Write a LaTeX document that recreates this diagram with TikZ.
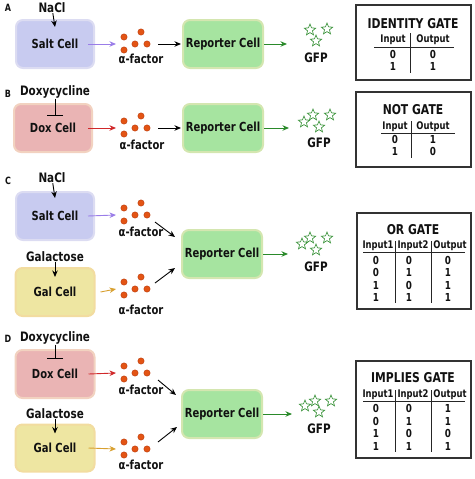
\documentclass[tikz,border=0pt]{standalone}
\usepackage{fontspec}
\setmainfont{DejaVu Sans}[FakeStretch=0.8]
\usetikzlibrary{arrows.meta,shapes.geometric}
\definecolor{saltf}{HTML}{C8CBF0}\definecolor{saltd}{HTML}{DCDCF2}
\definecolor{doxf}{HTML}{EAB4B4}\definecolor{doxd}{HTML}{F2D2C0}
\definecolor{galf}{HTML}{EEE6A2}\definecolor{gald}{HTML}{F2DCA0}
\definecolor{repf}{HTML}{A6E4A0}\definecolor{repd}{HTML}{D4E6B0}
\definecolor{purp}{HTML}{9A7DE8}\definecolor{redA}{HTML}{D0282A}
\definecolor{oran}{HTML}{D8A030}\definecolor{grn}{HTML}{2A8A2A}
\definecolor{dotf}{HTML}{E35414}\definecolor{dotd}{HTML}{B83A0A}
\definecolor{txt}{HTML}{111111}
\tikzset{
  cellbox/.style={rounded corners=7pt,line width=2pt,minimum width=78pt,minimum height=48pt,
    font=\fontsize{12.5}{14}\selectfont\bfseries,text=txt,inner sep=0pt},
  saltc/.style={cellbox,fill=saltf,draw=saltd},
  doxc/.style={cellbox,fill=doxf,draw=doxd},
  galc/.style={cellbox,fill=galf,draw=gald},
  repc/.style={cellbox,fill=repf,draw=repd,minimum width=80pt},
  lbl/.style={font=\fontsize{13}{15}\selectfont\bfseries,text=txt,inner sep=0pt},
  plbl/.style={font=\fontsize{10}{12}\selectfont\bfseries,text=txt,inner sep=0pt},
  afac/.style={font=\fontsize{12.5}{14}\selectfont\bfseries,text=txt,inner sep=0pt},
  ttl/.style={font=\fontsize{13.5}{15}\selectfont\bfseries,text=txt,inner sep=0pt},
  hdr/.style={font=\fontsize{10.5}{12}\selectfont\bfseries,text=txt,inner sep=0pt},
  val/.style={font=\fontsize{11}{12}\selectfont\bfseries,text=txt,inner sep=0pt},
  tbox/.style={draw=black!80,line width=1.1pt},
  tline/.style={draw=black!85,line width=0.8pt},
  arr/.style={line width=0.9pt,-{Stealth[length=6.5pt,width=5.5pt]}},
  inh/.style={line width=0.9pt,-{Bar[width=16pt]}},
  gstar/.style={star,star points=5,star point ratio=2.3,minimum size=12pt,inner sep=0pt,draw=grn,line width=0.6pt,fill=white},
  fdot/.style={fill=dotf,draw=dotd,line width=0.4pt},
}
\newcommand\fdots[1]{\foreach \dx/\dy in {-11/-7,6/-12,0/0,12/0,-11/6}{\filldraw[fdot] ([shift={(\dx,\dy)}]#1) circle (3.2pt);}}
\begin{document}
\begin{tikzpicture}[x=1pt,y=-1pt]
\useasboundingbox (0,0) rectangle (474,479);
% ---------- Panel A
\node[plbl] (labA) at (8,8) {A};
\node[lbl] (naclA) at (52,8) {NaCl};
\node[saltc] (saltA) at (55,44) {Salt Cell};
\node[repc] (repA) at (223,44) {Reporter Cell};
\coordinate (dA) at (135,44);
\node[afac] (afA) at (141,59) {α-factor};
\draw[arr,black] (naclA) -- ([yshift=-8pt]saltA.north);
\draw[arr,purp] ([xshift=-7pt]saltA.east) -- ([xshift=-19pt]dA);
\fdots{dA}
\draw[arr,black] ([xshift=23pt]dA) -- ([xshift=-1pt]repA.west);
\draw[arr,grn] ([xshift=0pt]repA.east) -- ([xshift=23pt]repA.east);
\node[gstar] (sA1) at (310,30) {};
\node[gstar] (sA2) at (327,29) {};
\node[gstar] (sA3) at (316,41) {};
\node[lbl] (gfpA) at (316,58) {GFP};
% table A
\draw[tbox] (356,5) rectangle (471,80);
\node[ttl] (tA) at (413,24) {IDENTITY GATE};
\node[hdr] (hA1) at (393,40) {Input};
\node[hdr] (hA2) at (433,40) {Output};
\draw[tline] (410,33) -- (410,73);
\draw[tline] (374,47) -- (454,47);
\node[val] (vA1) at (393,54) {0};\node[val] (vA2) at (433,54) {0};
\node[val] (vA3) at (393,66) {1};\node[val] (vA4) at (433,66) {1};
% ---------- Panel B
\node[plbl] (labB) at (8,94) {B};
\node[lbl] (doxyB) at (55,92) {Doxycycline};
\node[doxc] (doxB) at (53,128) {Dox Cell};
\node[repc] (repB) at (223,128) {Reporter Cell};
\coordinate (dB) at (135,128);
\node[afac] (afB) at (142,145) {α-factor};
\draw[inh,black] (doxyB) -- ([yshift=-13pt]doxB.north -| doxyB);
\draw[arr,redA] ([xshift=-5pt]doxB.east) -- ([xshift=-19pt]dB);
\fdots{dB}
\draw[arr,black] ([xshift=23pt]dB) -- ([xshift=-1pt]repB.west);
\draw[arr,grn] (repB.east) -- ([xshift=25pt]repB.east);
\node[gstar] (sB1) at (304,122) {};
\node[gstar] (sB2) at (313,115) {};
\node[gstar] (sB3) at (330,115) {};
\node[gstar] (sB4) at (319,127) {};
\node[lbl] (gfpB) at (319,143) {GFP};
% table B
\draw[tbox] (356,92) rectangle (471,167);
\node[ttl] (tB) at (413,110) {NOT GATE};
\node[hdr] (hB1) at (395,127) {Input};
\node[hdr] (hB2) at (433,127) {Output};
\draw[tline] (411,121) -- (411,158);
\draw[tline] (381,133) -- (455,133);
\node[val] (vB1) at (395,139) {0};\node[val] (vB2) at (433,139) {1};
\node[val] (vB3) at (395,151) {1};\node[val] (vB4) at (433,151) {0};
% ---------- Panel C
\node[plbl] (labC) at (8,181) {C};
\node[lbl] (naclC) at (52,178) {NaCl};
\node[saltc] (saltC) at (55,216) {Salt Cell};
\node[lbl] (galaC) at (55,257) {Galactose};
\node[galc,minimum width=79pt] (galC) at (55,292) {Gal Cell};
\node[repc] (repC) at (222,254) {Reporter Cell};
\coordinate (dC1) at (135,215);
\coordinate (dC2) at (135,289);
\node[afac] (afC1) at (141,232) {α-factor};
\node[afac] (afC2) at (141,310) {α-factor};
\draw[arr,black] (naclC) -- ([yshift=-7pt]saltC.north);
\draw[arr,black] (galaC) -- ([yshift=-10pt]galC.north);
\draw[arr,purp] ([xshift=-7pt]saltC.east) -- ([xshift=-19pt]dC1);
\draw[arr,oran] ([xshift=5pt]galC.east) -- ([xshift=-19pt]dC2);
\fdots{dC1}\fdots{dC2}
\draw[arr,black] ([shift={(20,7)}]dC1) -- ([shift={(-6,-17)}]repC.west);
\draw[arr,black] ([shift={(20,-6)}]dC2) -- ([shift={(-6,14)}]repC.west);
\draw[arr,grn] (repC.east) -- ([xshift=25pt]repC.east);
\node[gstar] (sC1) at (302,244) {};
\node[gstar] (sC2) at (310,238) {};
\node[gstar] (sC3) at (327,238) {};
\node[gstar] (sC4) at (316,250) {};
\node[lbl] (gfpC) at (316,267) {GFP};
% table C
\draw[tbox] (357,213) rectangle (471,309);
\node[ttl] (tC) at (413,230) {OR GATE};
\node[hdr] (hC1) at (378,246) {Input1};
\node[hdr] (hC2) at (413,246) {Input2};
\node[hdr] (hC3) at (450,246) {Output};
\draw[tline] (395,241) -- (395,303);
\draw[tline] (431,241) -- (431,303);
\draw[tline] (363,252) -- (465,252);
\foreach \y/\a/\b/\c [count=\i] in {260/0/0/0,272/0/1/1,285/1/0/1,297/1/1/1}{
  \node[val] (vC\i a) at (376,\y) {\a};
  \node[val] (vC\i b) at (409,\y) {\b};
  \node[val] (vC\i c) at (448,\y) {\c};}
% ---------- Panel D
\node[plbl] (labD) at (8,339) {D};
\node[lbl] (doxyD) at (55,338) {Doxycycline};
\node[doxc,minimum width=79pt] (doxD) at (55,374) {Dox Cell};
\node[lbl] (galaD) at (55,414) {Galactose};
\node[galc,minimum width=79pt,minimum height=47pt] (galD) at (55,448) {Gal Cell};
\node[repc] (repD) at (222,414) {Reporter Cell};
\coordinate (dD1) at (135,373);
\coordinate (dD2) at (135,449);
\node[afac] (afD1) at (141,390) {α-factor};
\node[afac] (afD2) at (141,465) {α-factor};
\draw[inh,black] (doxyD) -- ([yshift=-10pt]doxD.north -| doxyD);
\draw[arr,black] (galaD) -- ([yshift=-10pt]galD.north);
\draw[arr,redA] ([xshift=-7pt]doxD.east) -- ([xshift=-19pt]dD1);
\draw[arr,oran] ([xshift=-7pt]galD.east) -- ([xshift=-19pt]dD2);
\fdots{dD1}\fdots{dD2}
\draw[arr,black] ([shift={(23,7)}]dD1) -- ([shift={(-5,-19)}]repD.west);
\draw[arr,black] ([shift={(23,-7)}]dD2) -- ([shift={(-4,13)}]repD.west);
\draw[arr,grn] (repD.east) -- ([xshift=29pt]repD.east);
\node[gstar] (sD1) at (305,406) {};
\node[gstar] (sD2) at (315,401) {};
\node[gstar] (sD3) at (331,401) {};
\node[gstar] (sD4) at (319,412) {};
\node[lbl] (gfpD) at (319,429) {GFP};
% table D
\draw[tbox] (356,361) rectangle (471,458);
\node[ttl] (tD) at (413,378) {IMPLIES GATE};
\node[hdr] (hD1) at (378,395) {Input1};
\node[hdr] (hD2) at (413,395) {Input2};
\node[hdr] (hD3) at (450,395) {Output};
\draw[tline] (395,390) -- (395,452);
\draw[tline] (431,390) -- (431,452);
\draw[tline] (363,401) -- (465,401);
\foreach \y/\a/\b/\c [count=\i] in {408/0/0/1,421/0/1/1,433/1/0/0,446/1/1/1}{
  \node[val] (vD\i a) at (376,\y) {\a};
  \node[val] (vD\i b) at (409,\y) {\b};
  \node[val] (vD\i c) at (448,\y) {\c};}
\end{tikzpicture}
\end{document}
